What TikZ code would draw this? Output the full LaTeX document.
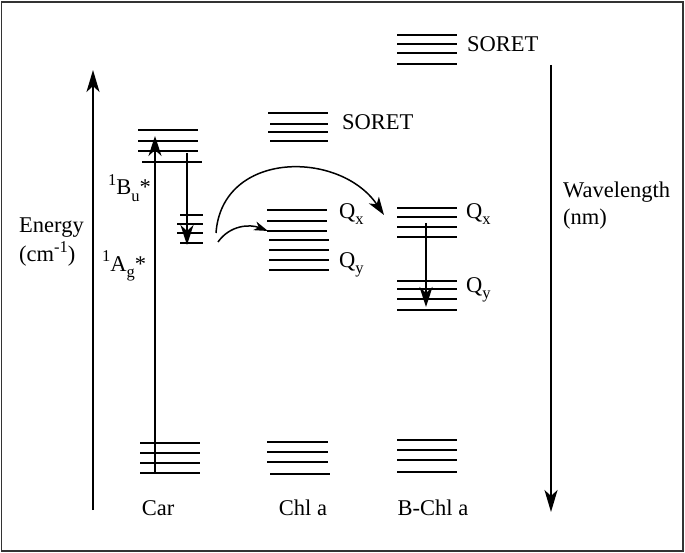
\documentclass[tikz,border=0pt]{standalone}
\usepackage{fontspec}
\setmainfont{Liberation Serif}
\usetikzlibrary{arrows.meta}
\newcommand{\mysub}[1]{\raisebox{-0.28em}{\fontsize{16.5}{16.5}\selectfont #1}}
\newcommand{\mysup}[1]{\raisebox{0.42em}{\fontsize{16.5}{16.5}\selectfont #1}}
\begin{document}
\begin{tikzpicture}[x=1pt,y=-1pt,
  lvl/.style={line width=1.9pt},
  tr/.style={line width=1.7pt,-{Stealth[length=20pt,width=13pt,inset=6pt]}},
  axis/.style={line width=2pt,-{Stealth[length=22pt,width=13pt,inset=6pt]}},
  lbl/.style={font=\fontsize{22.5}{27}\selectfont,inner sep=0pt},
  frame/.style={draw=black!80,line width=1.6pt}]
\useasboundingbox (0,0) rectangle (685,553);
\draw[frame] (1.5,2) rectangle (683,551);
% axes
\coordinate (eb) at (93,510);
\coordinate (et) at (93,70);
\draw[axis] (eb) -- (et);
\coordinate (wt) at (551,65);
\coordinate (wb) at (551,512);
\draw[axis] (wt) -- (wb);
\node[lbl,anchor=west] (energy) at (19,228) {Energy};
\node[lbl,anchor=west] (cm) at (19,254) {(cm\mysup{-1})};
\node[lbl,anchor=west] (wl) at (563,192) {Wavelength};
\node[lbl,anchor=west] (nm) at (563,219) {(nm)};
% Car levels
\foreach \y in {443,453,463,473} \draw[lvl] (140,\y) -- (200,\y);
\draw[lvl] (138,130) -- (198,130);
\draw[lvl] (138,141) -- (198,141);
\draw[lvl] (138,151) -- (198,151);
\draw[lvl] (142,162) -- (202,162);
\draw[lvl] (180,215) -- (203,215);
\draw[lvl] (177,224) -- (203,224);
\draw[lvl] (177,233) -- (203,233);
\draw[lvl] (180,243) -- (203,243);
% Chl a levels
\foreach \y in {442,452,462} \draw[lvl] (267,\y) -- (328,\y);
\draw[lvl] (270,474) -- (330,474);
\draw[lvl] (268,113) -- (328,113);
\draw[lvl] (270,124) -- (328,124);
\draw[lvl] (268,132) -- (328,132);
\draw[lvl] (270,141) -- (328,141);
\foreach \y in {210,221,231} \draw[lvl] (267,\y) -- (327,\y);
\foreach \y in {240,250,260,270} \draw[lvl] (269,\y) -- (329,\y);
% B-Chl a levels
\foreach \y in {440,450,460,472} \draw[lvl] (397,\y) -- (457,\y);
\foreach \y in {35,44,53,64} \draw[lvl] (397,\y) -- (457,\y);
\foreach \y in {208,217,227,237} \draw[lvl] (397,\y) -- (457,\y);
\foreach \y in {281,289,299,310} \draw[lvl] (397,\y) -- (457,\y);
% labels
\node[lbl] (car) at (158,508) {Car};
\node[lbl] (chl) at (303,508) {Chl a};
\node[lbl] (bchl) at (433,508) {B-Chl a};
\node[lbl,anchor=west] (soret1) at (342,122) {SORET};
\node[lbl,anchor=west] (soret2) at (467,44) {SORET};
\node[lbl,anchor=west] (qx1) at (339,214) {Q\mysub{x}};
\node[lbl,anchor=west] (qy1) at (339,265) {Q\mysub{y}};
\node[lbl,anchor=west] (qx2) at (466,214) {Q\mysub{x}};
\node[lbl,anchor=west] (qy2) at (466,290) {Q\mysub{y}};
\node[lbl,anchor=west] (bu) at (108,188) {\mysup{1}B\mysub{u}*};
\node[lbl,anchor=west] (ag) at (102,266) {\mysup{1}A\mysub{g}*};
% transitions
\coordinate (abs0) at (155,473);
\coordinate (abs1) at (155,136);
\draw[tr] (abs0) -- (abs1);
\coordinate (ic0) at (187,153);
\coordinate (ic1) at (187,245);
\draw[tr] (ic0) -- (ic1);
\coordinate (bq0) at (426,223);
\coordinate (bq1) at (426,307);
\draw[tr] (bq0) -- (bq1);
\coordinate (et0) at (216,233);
\coordinate (et1) at (384,215);
\draw[line width=1.5pt,-{Stealth[length=18pt,width=12pt,inset=5pt]}] (et0) .. controls (222,150) and (340,150) .. (et1);
\coordinate (es0) at (218,242);
\coordinate (es1) at (268,231);
\draw[line width=1.5pt,-{Stealth[length=14pt,width=9pt,inset=4pt]}] (es0) .. controls (230,225) and (250,224) .. (es1);
\end{tikzpicture}
\end{document}
